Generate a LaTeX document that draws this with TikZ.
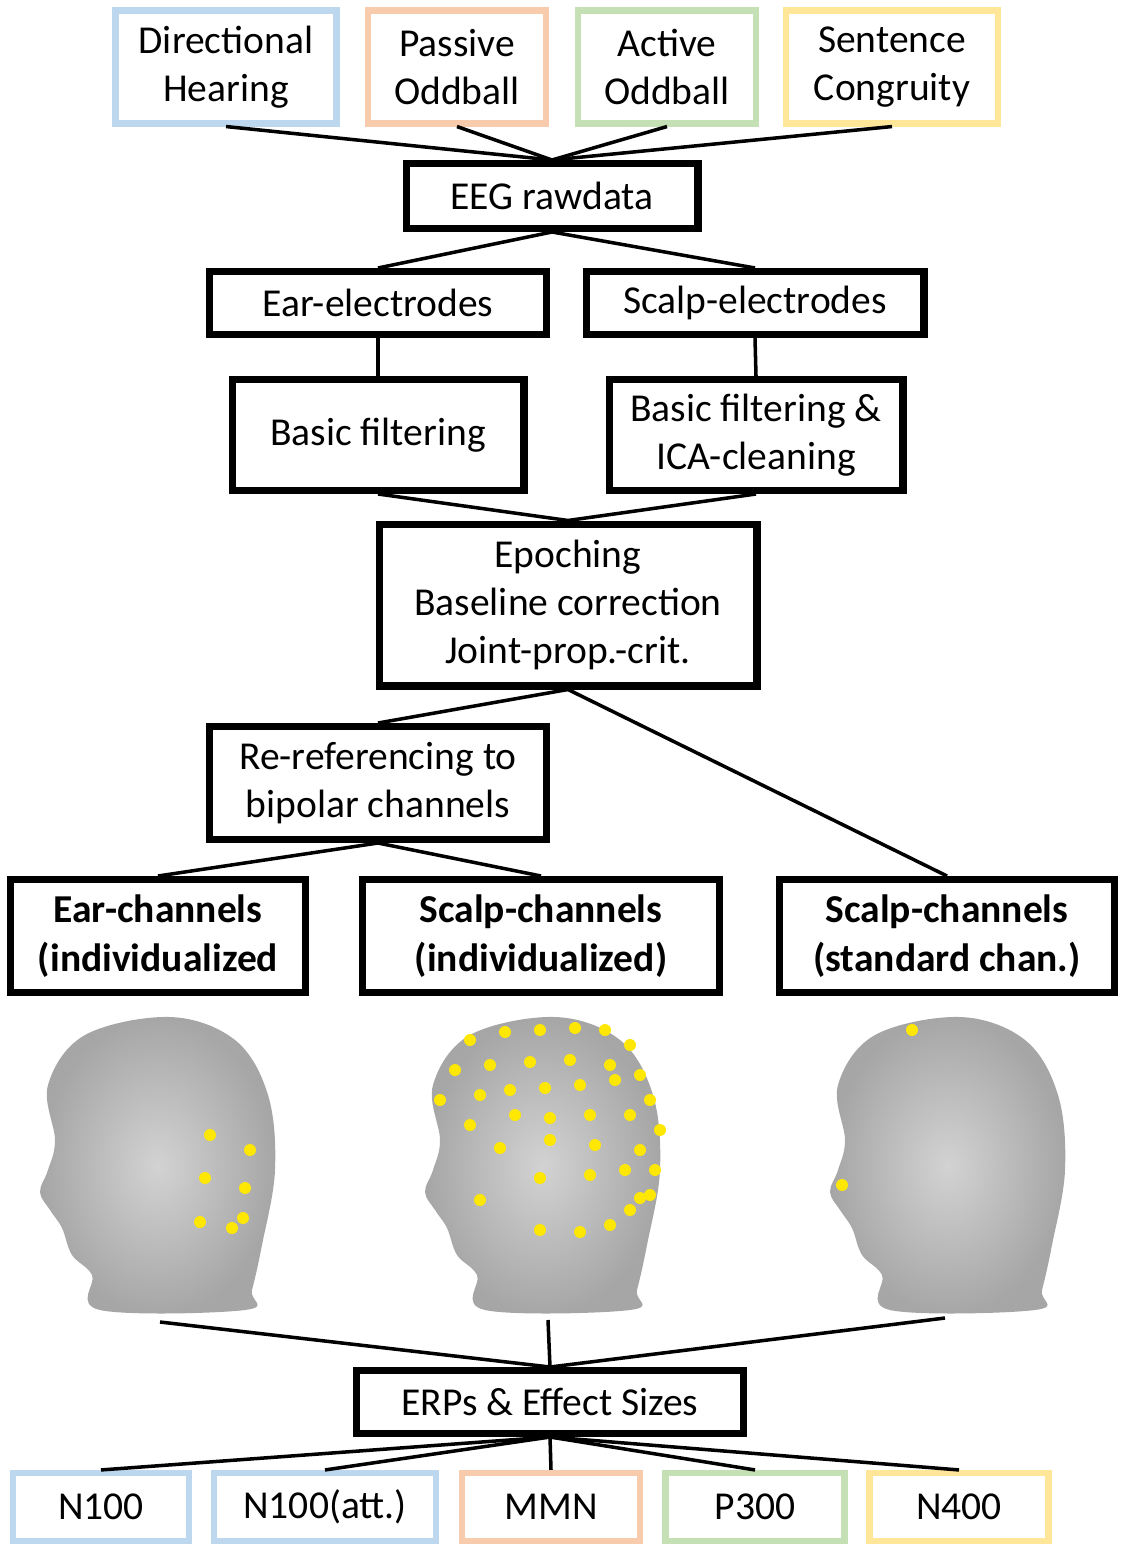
\documentclass[tikz,border=0pt]{standalone}
\usepackage{fontspec}
\setmainfont{Carlito}
\begin{document}
\begin{tikzpicture}[x=0.02cm,y=-0.02cm,
 bx/.style={draw=black,line width=4pt,align=center,font=\fontsize{22.5}{27.5}\selectfont,inner sep=0pt},
 cb/.style={bx,line width=3.5pt},
 ln/.style={line width=2pt},
 dot/.style={fill=yellow!90!orange,draw=none}]
\definecolor{cblue}{RGB}{189,215,238}
\definecolor{corange}{RGB}{248,203,173}
\definecolor{cgreen}{RGB}{197,224,180}
\definecolor{cyellow}{RGB}{255,230,153}
\useasboundingbox (0,0) rectangle (1125,1550);
\newcommand{\bxat}[7]{\node[#1,minimum width=#4*0.02cm-4pt,minimum height=#5*0.02cm-4pt] (#6) at (#2,#3) {#7};}
% top
\bxat{cb,draw=cblue}{226}{67}{228}{120}{dh}{Directional\\Hearing}
\bxat{cb,draw=corange}{457}{67}{185}{120}{po}{Passive\\Oddball}
\bxat{cb,draw=cgreen}{667}{67}{185}{120}{ao}{Active\\Oddball}
\bxat{cb,draw=cyellow}{892}{67}{219}{120}{sc}{Sentence\\Congruity}
\bxat{bx}{552}{196}{299}{72}{eeg}{EEG rawdata}
\bxat{bx}{378}{303}{344}{70}{ee}{Ear-electrodes}
\bxat{bx}{755}{303}{345}{70}{se}{Scalp-electrodes}
\bxat{bx}{378}{435}{299}{118}{bf}{Basic filtering}
\bxat{bx}{756}{435}{301}{118}{bfi}{Basic filtering \&\\ICA-cleaning}
\bxat{bx}{568}{605}{385}{169}{ep}{Epoching\\Baseline correction\\Joint-prop.-crit.}
\bxat{bx}{378}{783}{344}{120}{rr}{Re-referencing to\\bipolar channels}
\bxat{bx,font=\fontsize{22.5}{27.5}\selectfont\bfseries}{158}{936}{302}{120}{ec}{Ear-channels\\(individualized}
\bxat{bx,font=\fontsize{22.5}{27.5}\selectfont\bfseries}{541}{936}{364}{120}{sci}{Scalp-channels\\(individualized)}
\bxat{bx,font=\fontsize{22.5}{27.5}\selectfont\bfseries}{947}{936}{342}{120}{scs}{Scalp-channels\\(standard chan.)}
\bxat{bx}{550}{1402}{394}{70}{erp}{ERPs \& Effect Sizes}
\bxat{cb,draw=cblue}{101}{1507}{183}{75}{b1}{N100}
\bxat{cb,draw=cblue}{325}{1507}{229}{75}{b2}{N100(att.)}
\bxat{cb,draw=corange}{551}{1507}{185}{75}{b3}{MMN}
\bxat{cb,draw=cgreen}{755}{1507}{186}{75}{b4}{P300}
\bxat{cb,draw=cyellow}{959}{1507}{186}{75}{b5}{N400}
% connectors
\foreach \n in {dh,po,ao,sc} \draw[ln] (\n.south) -- (eeg.north);
\draw[ln] (eeg.south) -- (ee.north);
\draw[ln] (eeg.south) -- (se.north);
\draw[ln] (ee.south) -- (bf.north);
\draw[ln] (se.south) -- (bfi.north);
\draw[ln] (bf.south) -- (ep.north);
\draw[ln] (bfi.south) -- (ep.north);
\draw[ln] (ep.south) -- (rr.north);
\draw[ln] (ep.south) -- (scs.north);
\draw[ln] (rr.south) -- (ec.north);
\draw[ln] (rr.south) -- (sci.north);
\coordinate (h1) at (160,1322);
\coordinate (h2) at (548,1320);
\coordinate (h3) at (945,1318);
\foreach \n in {h1,h2,h3} \draw[ln] (\n) -- (erp.north);
\foreach \n in {b1,b2,b3,b4,b5} \draw[ln] (erp.south) -- (\n.north);
% heads
\newcommand{\headshape}{plot[smooth cycle,tension=0.6] coordinates {(170,1017) (235,1040) (268,1095) (275,1170) (262,1245) (252,1290) (245,1310) (100,1310) (92,1275) (72,1255) (62,1228) (50,1210) (40,1192) (48,1170) (55,1140) (48,1085) (85,1035)}}
\foreach \dx in {0,385,790}{
 \begin{scope}[xshift=\dx*0.02cm]
  \shade[inner color=gray!35,outer color=gray!70] \headshape;
 \end{scope}}
\foreach \p in {(210,1135),(250,1150),(205,1178),(245,1188),(243,1218),(200,1222),(232,1228)} \fill[dot] \p circle (6);
\foreach \p in {(912,1030),(842,1185)} \fill[dot] \p circle (6);
\foreach \p in {(470,1040),(505,1032),(540,1030),(575,1028),(605,1030),(630,1045),
 (455,1070),(490,1065),(530,1062),(570,1060),(610,1065),(640,1075),
 (440,1100),(480,1095),(510,1090),(545,1088),(580,1085),(615,1080),(650,1100),
 (470,1125),(515,1115),(550,1118),(590,1115),(630,1115),(660,1130),
 (500,1148),(550,1140),(595,1145),(640,1150),(655,1170),
 (480,1200),(540,1178),(590,1175),(625,1170),(650,1195),
 (540,1230),(580,1232),(610,1225),(630,1210),(640,1198)} \fill[dot] \p circle (6);
\end{tikzpicture}
\end{document}
